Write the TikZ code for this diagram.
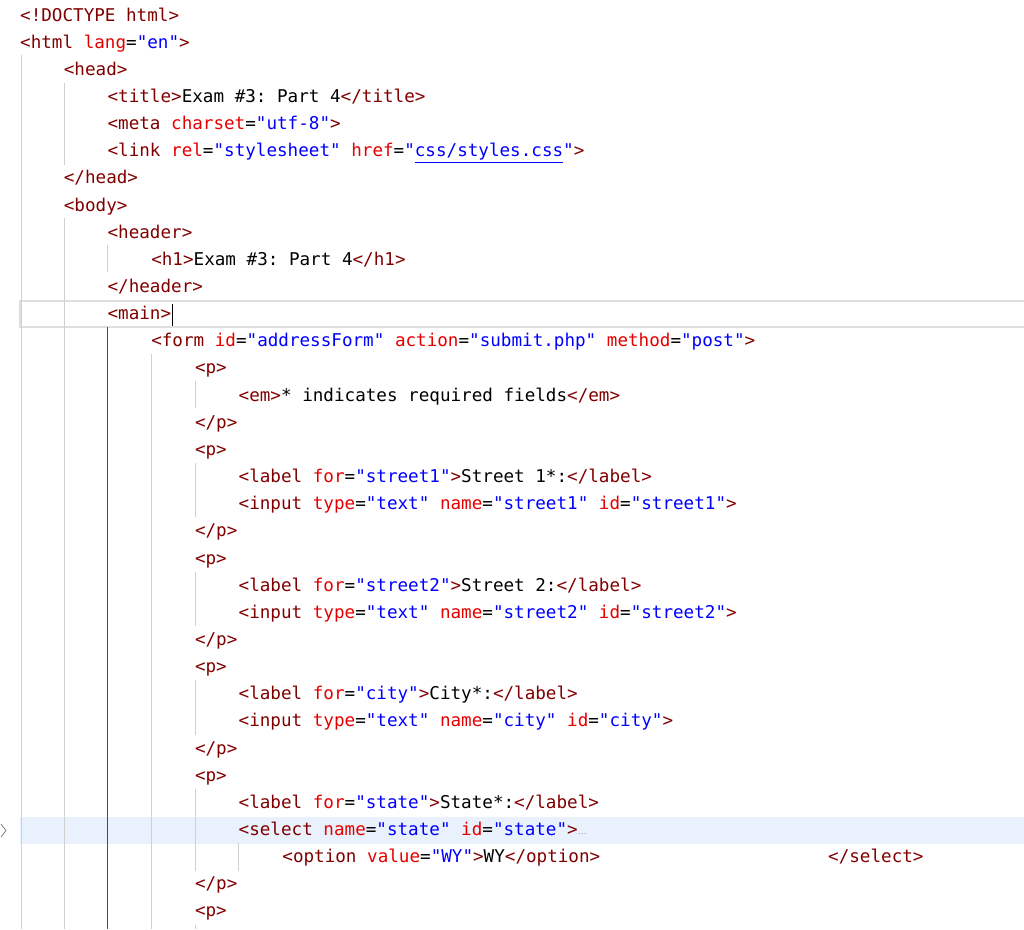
\documentclass[tikz,border=0pt]{standalone}
\usepackage{fontspec}
\setmonofont{DejaVu Sans Mono}
\definecolor{tagc}{HTML}{800000}
\definecolor{attc}{HTML}{E50000}
\definecolor{valc}{HTML}{0000FF}
\definecolor{guide}{HTML}{D0D0D0}
\definecolor{hl}{HTML}{E8F1FC}
\newcommand{\tg}[1]{\textcolor{tagc}{#1}}
\newcommand{\att}[1]{\textcolor{attc}{#1}}
\newcommand{\vl}[1]{\textcolor{valc}{#1}}
\tikzset{code/.style={anchor=base west,inner sep=0pt,font=\ttfamily\fontsize{17.6}{20}\selectfont},
 gd/.style={guide,line width=1pt}}
\newcommand{\cl}[4]{\node[code] (#1) at ({20+43.7*#2},{-(21+27.15*#3)}) {#4};}
\begin{document}
\begin{tikzpicture}[x=1pt,y=1pt]
\useasboundingbox (0,0) rectangle (1024,-929);
\fill[hl] (20,-817) rectangle (1024,-844);
\draw[guide!70,line width=1.5pt] (20,-301) rectangle (1030,-327);
\draw[gray,line width=0.8pt] (1,-824) -- (6,-830.5) -- (1,-837);
% guides
\draw[gd] (21,-55) -- (21,-929);
\draw[gd] (64,-83) -- (64,-165);
\draw[gd] (64,-218) -- (64,-929);
\draw[gd] (107,-245) -- (107,-272);
\draw[black!70,line width=1pt] (107,-327) -- (107,-929);
\draw[gd] (151,-354) -- (151,-929);
\draw[gd] (195,-381) -- (195,-408);
\draw[gd] (195,-463) -- (195,-517);
\draw[gd] (195,-572) -- (195,-626);
\draw[gd] (195,-680) -- (195,-735);
\draw[gd] (195,-789) -- (195,-871);
\draw[gd] (238,-843) -- (238,-871);
\draw[gd] (195,-925) -- (195,-929);
\cl{l0}{0}{0}{\tg{<!DOCTYPE html>}}
\cl{l1}{0}{1}{\tg{<html} \att{lang}=\vl{"en"}\tg{>}}
\cl{l2}{1}{2}{\tg{<head>}}
\cl{l3}{2}{3}{\tg{<title>}Exam \#3: Part 4\tg{</title>}}
\cl{l4}{2}{4}{\tg{<meta} \att{charset}=\vl{"utf-8"}\tg{>}}
\cl{l5}{2}{5}{\tg{<link} \att{rel}=\vl{"stylesheet"} \att{href}=\vl{"\underline{css/styles.css}"}\tg{>}}
\cl{l6}{1}{6}{\tg{</head>}}
\cl{l7}{1}{7}{\tg{<body>}}
\cl{l8}{2}{8}{\tg{<header>}}
\cl{l9}{3}{9}{\tg{<h1>}Exam \#3: Part 4\tg{</h1>}}
\cl{l10}{2}{10}{\tg{</header>}}
\cl{l11}{2}{11}{\tg{<main>}}
\draw[black,line width=1pt] (l11.north east)++(1,2) -- ++(0,-22);
\cl{l12}{3}{12}{\tg{<form} \att{id}=\vl{"addressForm"} \att{action}=\vl{"submit.php"} \att{method}=\vl{"post"}\tg{>}}
\cl{l13}{4}{13}{\tg{<p>}}
\cl{l14}{5}{14}{\tg{<em>}* indicates required fields\tg{</em>}}
\cl{l15}{4}{15}{\tg{</p>}}
\cl{l16}{4}{16}{\tg{<p>}}
\cl{l17}{5}{17}{\tg{<label} \att{for}=\vl{"street1"}\tg{>}Street 1*:\tg{</label>}}
\cl{l18}{5}{18}{\tg{<input} \att{type}=\vl{"text"} \att{name}=\vl{"street1"} \att{id}=\vl{"street1"}\tg{>}}
\cl{l19}{4}{19}{\tg{</p>}}
\cl{l20}{4}{20}{\tg{<p>}}
\cl{l21}{5}{21}{\tg{<label} \att{for}=\vl{"street2"}\tg{>}Street 2:\tg{</label>}}
\cl{l22}{5}{22}{\tg{<input} \att{type}=\vl{"text"} \att{name}=\vl{"street2"} \att{id}=\vl{"street2"}\tg{>}}
\cl{l23}{4}{23}{\tg{</p>}}
\cl{l24}{4}{24}{\tg{<p>}}
\cl{l25}{5}{25}{\tg{<label} \att{for}=\vl{"city"}\tg{>}City*:\tg{</label>}}
\cl{l26}{5}{26}{\tg{<input} \att{type}=\vl{"text"} \att{name}=\vl{"city"} \att{id}=\vl{"city"}\tg{>}}
\cl{l27}{4}{27}{\tg{</p>}}
\cl{l28}{4}{28}{\tg{<p>}}
\cl{l29}{5}{29}{\tg{<label} \att{for}=\vl{"state"}\tg{>}State*:\tg{</label>}}
\cl{l30}{5}{30}{\tg{<select} \att{name}=\vl{"state"} \att{id}=\vl{"state"}\tg{>}\textcolor{gray}{\tiny\raisebox{1pt}{\textbf{\ttfamily...}}}}
\cl{l31}{6}{31}{\tg{<option} \att{value}=\vl{"WY"}\tg{>}WY\tg{</option>}}
\node[code] (l31b) at (828,{-(21+27.15*31)}) {\tg{</select>}};
\cl{l32}{4}{32}{\tg{</p>}}
\cl{l33}{4}{33}{\tg{<p>}}
\end{tikzpicture}
\end{document}
